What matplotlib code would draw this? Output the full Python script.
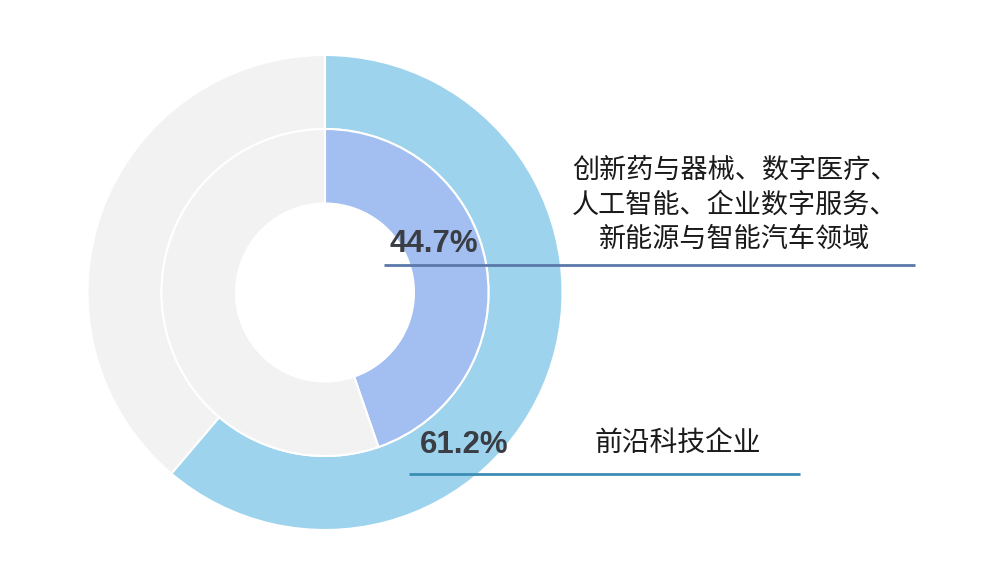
import matplotlib
matplotlib.use("Agg")
import matplotlib.pyplot as plt

plt.rcParams['font.family'] = ['Noto Sans CJK SC', 'DejaVu Sans']

# data
outer_vals = [61.2, 100 - 61.2]   # 前沿科技企业
inner_vals = [44.7, 100 - 44.7]   # 创新药...领域
outer_label = "前沿科技企业"
inner_label = "创新药与器械、数字医疗、\n人工智能、企业数字服务、\n新能源与智能汽车领域"

fig = plt.figure(figsize=(10, 5.85), dpi=100)
ax = fig.add_axes([0, 0, 1, 1])

cx, cy = 325, 292.5

ax.pie(outer_vals, radius=237.5, center=(cx, cy), startangle=90, counterclock=False,
       colors=['#9dd3ec', '#f2f2f2'],
       wedgeprops=dict(width=74, edgecolor='white', linewidth=1.5), frame=True)
ax.pie(inner_vals, radius=163.5, center=(cx, cy), startangle=90, counterclock=False,
       colors=['#a3bef0', '#f2f2f2'],
       wedgeprops=dict(width=74.5, edgecolor='white', linewidth=1.5), frame=True)
ax.set_xlim(0, 1000)
ax.set_ylim(0, 585)
ax.set_aspect('equal')
ax.axis('off')

# leader lines
ax.plot([384, 915], [320, 320], color='#5a78aa', lw=2, solid_capstyle='butt')
ax.plot([409, 800], [111, 111], color='#3b8db3', lw=2, solid_capstyle='butt')

pct_font = ['Liberation Sans', 'DejaVu Sans']
ax.text(389, 341, f"{inner_vals[0]}%", fontsize=22.5, fontweight='bold', color='#3a3d44',
        family=pct_font, ha='left', va='center')
ax.text(420, 140, f"{outer_vals[0]}%", fontsize=22.5, fontweight='bold', color='#3a3d44',
        family=pct_font, ha='left', va='center')

ax.text(735, 380, inner_label, fontsize=19.5, color='#1a1a1a', ha='center', va='center',
        multialignment='center', linespacing=1.36)
ax.text(678, 142, outer_label, fontsize=20, color='#1a1a1a', ha='center', va='center')

fig.savefig("out.png", dpi=100, facecolor='white')
